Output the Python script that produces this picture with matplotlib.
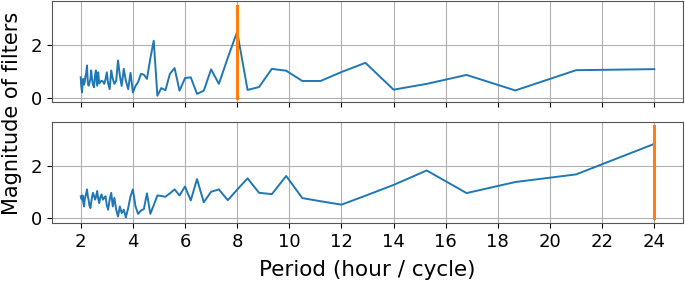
import numpy as np
import matplotlib
matplotlib.use("Agg")
import matplotlib.pyplot as plt

# periods (hour / cycle) of the filters
period = [2.0, 2.02, 2.05, 2.07, 2.1, 2.13, 2.15, 2.18, 2.21, 2.24,
          2.27, 2.3, 2.33, 2.37, 2.4, 2.43, 2.47, 2.51, 2.55, 2.58,
          2.63, 2.67, 2.71, 2.75, 2.8, 2.85, 2.9, 2.95, 3.0, 3.05,
          3.11, 3.17, 3.23, 3.29, 3.36, 3.43, 3.5, 3.57, 3.65, 3.73,
          3.82, 3.91, 4.0, 4.1, 4.2, 4.31, 4.42, 4.54, 4.67, 4.8,
          4.94, 5.09, 5.25, 5.42, 5.6, 5.79, 6.0, 6.22, 6.46, 6.72,
          7.0, 7.3, 7.64, 8.0, 8.4, 8.84, 9.33, 9.88, 10.5, 11.2,
          12.0, 12.92, 14.0, 15.27, 16.8, 18.67, 21.0, 24.0]

mag_top = [0.78, 0.45, 0.21, 0.55, 0.72, 0.5, 0.59, 0.8, 0.95, 1.23,
           0.6, 0.46, 0.55, 0.7, 1.04, 0.75, 0.5, 0.4, 0.85, 1.04,
           0.46, 0.97, 0.55, 0.6, 0.65, 0.62, 0.53, 0.7, 0.97, 0.55,
           0.33, 1.04, 0.72, 0.53, 0.65, 1.42, 0.85, 0.45, 1.1, 0.65,
           0.33, 0.95, 0.2, 0.45, 0.6, 0.91, 0.88, 0.72, 1.5, 2.17,
           0.08, 0.37, 0.29, 0.91, 1.13, 0.27, 0.75, 0.78, 0.15, 0.27,
           1.08, 0.53, 1.52, 2.51, 0.3, 0.41, 1.1, 1.03, 0.64, 0.64,
           0.98, 1.33, 0.31, 0.53, 0.87, 0.28, 1.05, 1.09]

mag_bottom = [0.84, 0.75, 0.71, 0.87, 0.6, 0.45, 0.7, 0.84, 0.95, 1.1,
              0.85, 0.71, 0.5, 0.39, 0.6, 0.8, 0.97, 0.85, 0.71, 0.8,
              1.04, 0.75, 0.58, 0.8, 0.91, 0.71, 0.78, 0.84, 0.5, 0.33,
              0.71, 0.97, 0.45, 0.78, 0.33, 0.07, 0.45, 0.2, 0.33, 0.04,
              0.39, 0.84, 1.1, 0.46, 0.17, 0.3, 0.35, 0.95, 0.17, 0.5,
              0.87, 0.85, 0.82, 0.95, 1.1, 0.87, 1.21, 0.68, 1.49, 0.61,
              1.01, 1.1, 0.69, 1.09, 1.52, 0.97, 0.92, 1.61, 0.77, 0.65,
              0.52, 0.86, 1.27, 1.82, 0.96, 1.38, 1.67, 2.83]

# selected period of each filter (orange marker line)
selected = [8.0, 24.0]
marker_height = 3.5

fig, axes = plt.subplots(2, 1, sharex=True, figsize=(6.85, 2.84), dpi=100)
fig.subplots_adjust(left=0.076, right=0.997, top=0.996, bottom=0.215, hspace=0.19)

for ax, mag, sel in zip(axes, [mag_top, mag_bottom], selected):
    ax.plot(period, mag, color="C0", lw=1.4)
    ax.plot([sel, sel], [0, marker_height], color="C1", lw=2.2)
    ax.set_yticks([0, 2])
    ax.grid(True, color="#b0b0b0", lw=0.8)
    ax.tick_params(labelsize=13)
    for s in ax.spines.values():
        s.set_color("#555555")

axes[1].set_xticks(range(2, 25, 2))
axes[1].set_xlabel("Period (hour / cycle)", fontsize=15.5, labelpad=7)
fig.text(0.018, 0.6, "Magnitude of filters", rotation=90, fontsize=15,
         ha="center", va="center")

fig.savefig("out.png", dpi=100)
